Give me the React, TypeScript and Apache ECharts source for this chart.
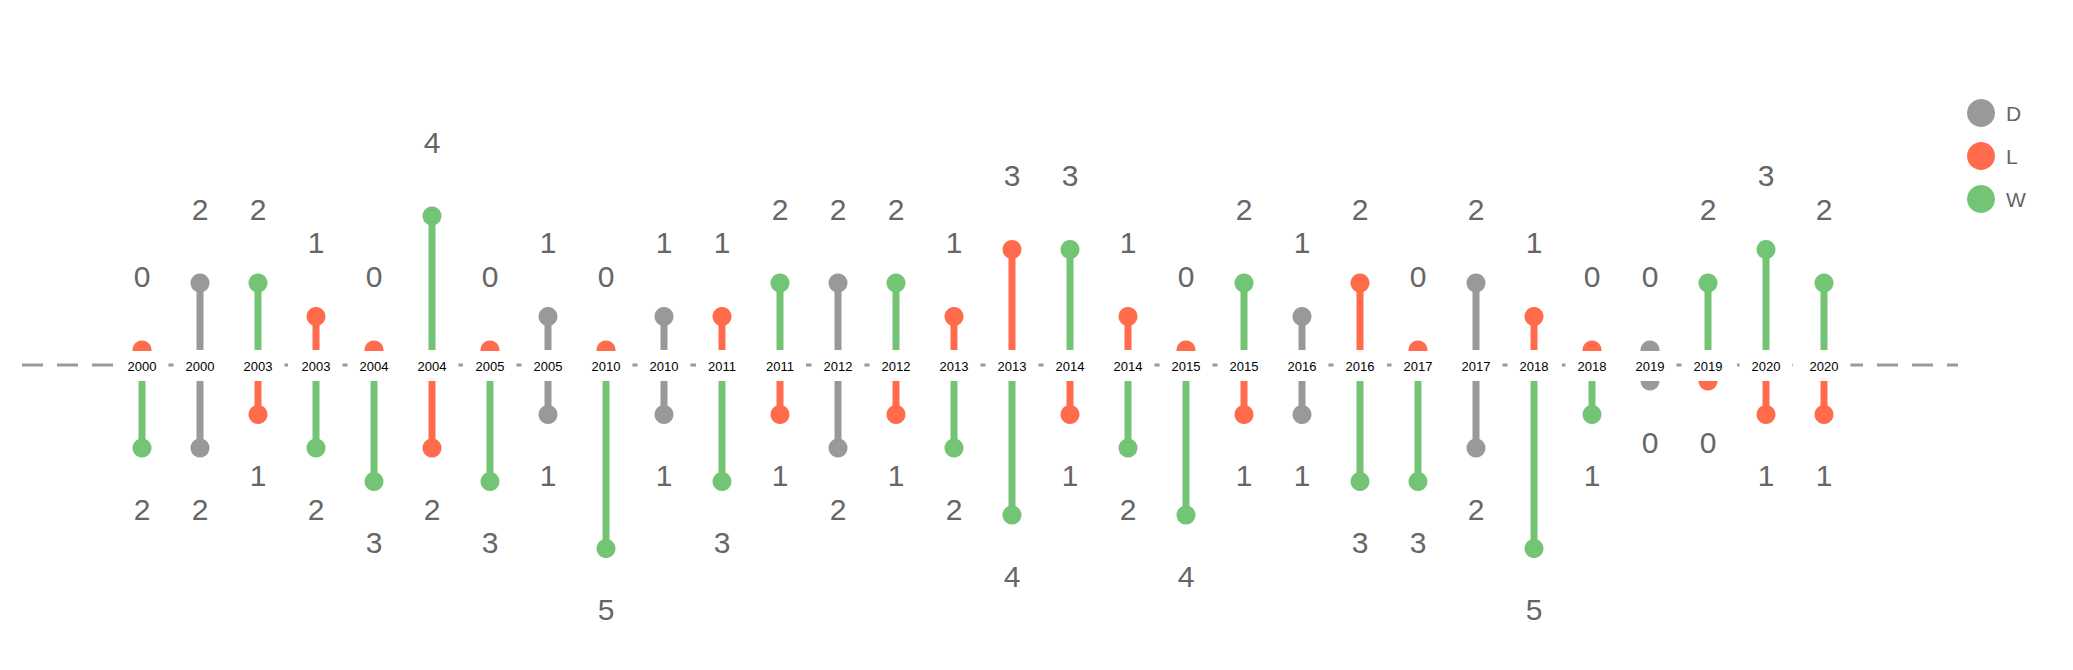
import React, { useEffect, useRef } from "react";
import * as echarts from "echarts";

const years = [
  "2000", "2000", "2003", "2003", "2004", "2004", "2005", "2005", "2010", "2010",
  "2011", "2011", "2012", "2012", "2013", "2013", "2014", "2014", "2015", "2015",
  "2016", "2016", "2017", "2017", "2018", "2018", "2019", "2019", "2020", "2020",
];
const topGoals = [0, 2, 2, 1, 0, 4, 0, 1, 0, 1, 1, 2, 2, 2, 1, 3, 3, 1, 0, 2, 1, 2, 0, 2, 1, 0, 0, 2, 3, 2];
const topResults = [
  "L", "D", "W", "L", "L", "W", "L", "D", "L", "D",
  "L", "W", "D", "W", "L", "L", "W", "L", "L", "W",
  "D", "L", "L", "D", "L", "L", "D", "W", "W", "W",
];
const bottomGoals = [2, 2, 1, 2, 3, 2, 3, 1, 5, 1, 3, 1, 2, 1, 2, 4, 1, 2, 4, 1, 1, 3, 3, 2, 5, 1, 0, 0, 1, 1];
// the other side's result is the mirror of the top one
const bottomResults = topResults.map((r) => (r === "W" ? "L" : r === "L" ? "W" : "D"));

const resultNames = ["D", "L", "W"];
const resultColors: Record<string, string> = {
  D: "#999999",
  L: "#ff6b4b",
  W: "#73c474",
};

const App: React.FC = () => {
  const chartRef = useRef<HTMLDivElement>(null);

  useEffect(() => {
    if (!chartRef.current) return;
    const chart = echarts.init(chartRef.current, undefined, { renderer: "svg" });

    const series: any[] = [];
    [0, 1].forEach((g) => {
      const goals = g === 0 ? topGoals : bottomGoals;
      const results = g === 0 ? topResults : bottomResults;
      resultNames.forEach((r) => {
        const data = goals.map((v, i) => (results[i] === r ? v : "-"));
        series.push({
          name: r,
          type: "bar",
          xAxisIndex: g,
          yAxisIndex: g,
          data,
          barWidth: 7,
          barGap: "-100%",
          itemStyle: { color: resultColors[r] },
          silent: true,
        });
      });
      resultNames.forEach((r) => {
        const data = goals.map((v, i) => (results[i] === r ? v : "-"));
        series.push({
          name: r,
          type: "scatter",
          xAxisIndex: g,
          yAxisIndex: g,
          data,
          symbol: "circle",
          symbolSize: 19,
          itemStyle: { color: resultColors[r], opacity: 1 },
          label: {
            show: true,
            position: "inside",
            offset: [0, g === 0 ? -74 : 61],
            color: "#666",
            fontSize: 30,
            fontFamily: "Arial, 'Liberation Sans', sans-serif",
            formatter: (p: any) => String(Array.isArray(p.value) ? p.value[1] : p.value),
          },
        });
      });
    });

    const option = {
      animation: false,
      legend: {
        data: resultNames,
        orient: "vertical",
        left: 1962,
        top: 94,
        icon: "circle",
        itemWidth: 28,
        itemHeight: 28,
        itemGap: 15,
        textStyle: {
          color: "#666",
          fontSize: 21,
          fontFamily: "Arial, 'Liberation Sans', sans-serif",
          padding: [0, 0, 0, 6],
        },
      },
      grid: [
        { left: 113, right: 220, top: 149, bottom: 320 },
        { left: 113, right: 220, top: 381, bottom: 88 },
      ],
      xAxis: [
        {
          type: "category",
          gridIndex: 0,
          data: years,
          z: 5,
          axisLine: { show: false },
          axisTick: { show: false },
          axisLabel: {
            interval: 0,
            margin: 1,
            color: "#000",
            fontSize: 13,
            lineHeight: 14,
            fontFamily: "Arial, 'Liberation Sans', sans-serif",
            backgroundColor: "#fff",
            padding: [8, 12],
          },
        },
        {
          type: "category",
          gridIndex: 1,
          data: years,
          show: false,
        },
      ],
      yAxis: [
        { type: "value", gridIndex: 0, min: 0, max: 6, show: false },
        { type: "value", gridIndex: 1, min: 0, max: 6, inverse: true, show: false },
      ],
      graphic: [
        {
          type: "line",
          z: 1,
          shape: { x1: 22, y1: 365, x2: 1958, y2: 365 },
          style: { stroke: "#9a9a9a", lineWidth: 3, lineDash: [21, 14] },
          silent: true,
        },
      ],
      series,
    };

    chart.setOption(option);

    const handleResize = () => chart.resize();
    window.addEventListener("resize", handleResize);
    return () => {
      window.removeEventListener("resize", handleResize);
      chart.dispose();
    };
  }, []);

  return (
    <div
      ref={chartRef}
      style={{ position: "fixed", left: 0, top: 0, width: "100vw", height: "100vh", background: "#fff" }}
    />
  );
};

export default App;
